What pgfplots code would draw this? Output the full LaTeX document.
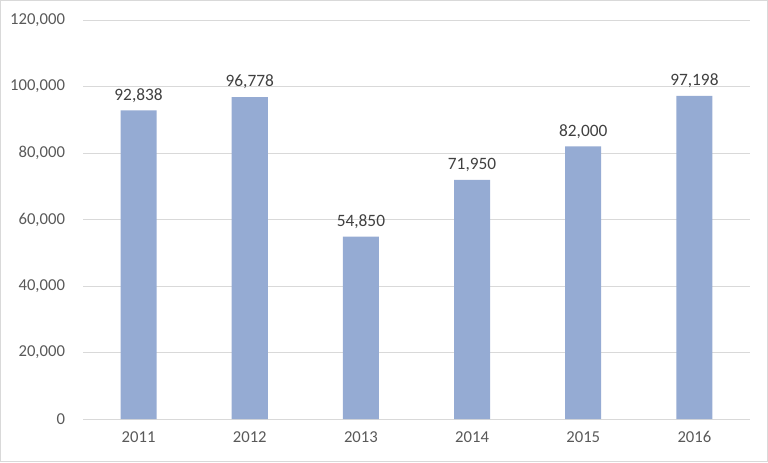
\documentclass[border=0pt]{standalone}
\usepackage{pgfplots}
\pgfplotsset{compat=1.18}
\usepackage{fontspec}
\setmainfont{Carlito}
\definecolor{barc}{HTML}{95ABD3}
\definecolor{gridc}{HTML}{D9D9D9}
\definecolor{txt}{HTML}{595959}
\definecolor{lbl}{HTML}{404040}
\begin{document}
\begin{tikzpicture}[x=1pt,y=1pt]
\draw[gridc, line width=1pt] (0.5,0.5) rectangle (575.5,346);
\begin{axis}[
  at={(62.25pt,32.25pt)}, anchor=south west,
  scale only axis, width=500.25pt, height=299.25pt,
  xmin=-0.5, xmax=5.5, ymin=0, ymax=120000,
  xtick={0,1,2,3,4,5}, xticklabels={2011,2012,2013,2014,2015,2016},
  ytick={0,20000,40000,60000,80000,100000,120000},
  yticklabel={\pgfmathprintnumber[fixed,precision=0,1000 sep={,},assume math mode=true]{\tick}},
  scaled y ticks=false,
  ymajorgrids, grid style={gridc, line width=0.75pt},
  axis x line*=bottom, axis y line*=left,
  x axis line style={gridc, line width=0.75pt, -},
  y axis line style={draw=none},
  major tick length=0pt,
  tick label style={txt, font=\fontsize{12.5}{14}\selectfont},
  yticklabel style={xshift=-10pt},
  xticklabel style={yshift=-6pt},
  ybar, bar width=27pt,
  nodes near coords={\pgfmathprintnumber[fixed,precision=0,1000 sep={,},assume math mode=true]{\pgfplotspointmeta}},
  every node near coord/.append style={lbl, font=\fontsize{13}{15}\selectfont, yshift=2.5pt},
]
\addplot[fill=barc, draw=none] coordinates {(0,92838) (1,96778) (2,54850) (3,71950) (4,82000) (5,97198)};
\end{axis}
\end{tikzpicture}
\end{document}
